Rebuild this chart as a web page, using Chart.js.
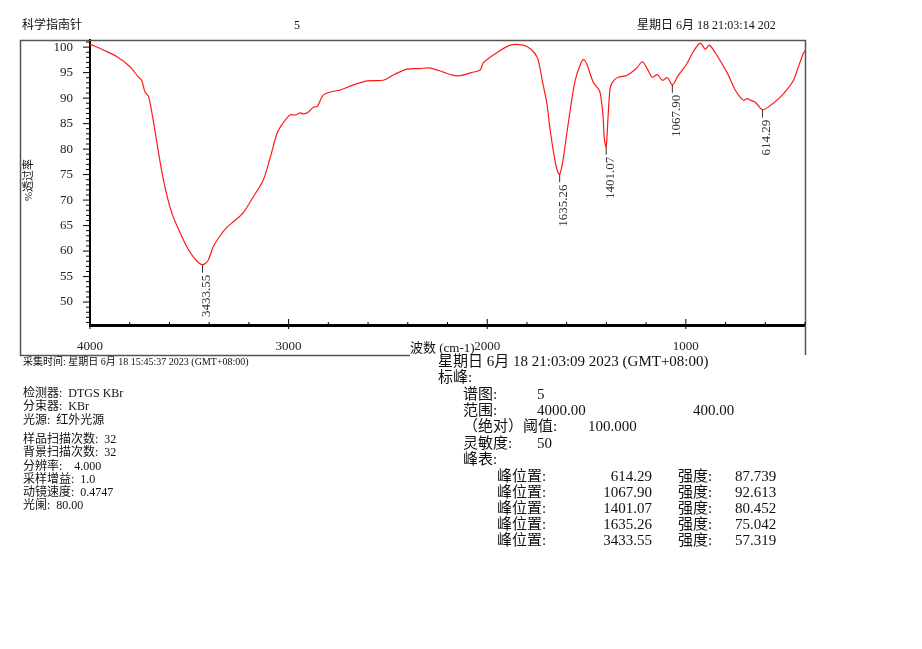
<!DOCTYPE html>
<html><head><meta charset="utf-8">
<script src="https://cdn.jsdelivr.net/npm/chart.js@4"></script>
<style>
html,body{margin:0;padding:0;background:#fff;}
#wrap{position:relative;width:922px;height:649px;overflow:hidden;}
canvas{position:absolute;left:0;top:0;}
.t{position:absolute;white-space:pre;font-family:"Liberation Serif","Noto Sans CJK SC",serif;color:#111;line-height:1;}
</style></head><body>
<div id="wrap"><canvas id="c" width="922" height="649"></canvas></div>
<script>
const wavenumbers=[4000,3930,3864,3800,3758,3740,3723,3705,3682,3660,3637,3610,3581,3545,3512,3470,3433.55,3405,3380,3345,3310,3270,3229,3180,3128,3095,3058,3030,2993,2965,2942,2925,2900,2876,2855,2826,2780,2740,2680,2605,2524,2470,2404,2340,2287,2221,2175,2136,2080,2035,2020,1960,1884,1819,1780,1748,1735,1723,1700,1683,1660,1645,1635.26,1620,1597,1575,1557,1535,1516,1500,1466,1440,1431,1418,1410,1401.07,1392,1380,1360,1340,1295,1250,1219,1195,1169,1143,1118,1093,1067.9,1040,993,960,927,902,882,850,791,750,710,690,675,650,614.29,580,524,490,458,430,408,400];
const transmittance=[100.6,99.4,98.1,96.2,94.2,93.5,91.2,90.3,85.7,80.5,75.3,70.5,66.7,63.5,60.8,58.4,57.32,58.2,60.8,63.0,64.7,66.0,67.5,70.5,73.9,78,83.1,85.0,86.7,86.7,87.1,86.9,87.3,88.2,88.4,90.6,91.3,91.6,92.5,93.4,93.5,94.6,95.7,95.8,95.9,95.1,94.5,94.4,95.0,95.5,96.9,98.7,100.4,100.4,99.6,98,96,93.5,89,83.7,78,75.5,75.04,77.5,83.7,89.5,93.5,96.2,97.6,96.8,93.1,91.8,91,87,82,80.45,86,92.2,93.6,94.1,94.5,95.8,97.1,95.8,94.1,94.6,93.5,94,92.61,94.3,96.9,99.3,100.8,99.6,100.4,98.8,94.9,91.5,89.6,89.9,89.6,89.2,87.74,88.4,90.2,91.7,93.5,96.5,98.8,99.3];
const peakPositions=[614.29,1067.90,1401.07,1635.26,3433.55];
const peakIntensities=[87.739,92.613,80.452,75.042,57.319];
const peakLabels=["614.29","1067.90","1401.07","1635.26","3433.55"];
const yTicks=[50,55,60,65,70,75,80,85,90,95,100];
const xTicks=[4000,3000,2000,1000];

const FONT='"Liberation Serif","Noto Sans CJK SC",serif';
const deco={id:'deco',afterDraw(ch){
  const c=ch.ctx,x=ch.scales.x,y=ch.scales.y,a=ch.chartArea;
  c.save();
  c.strokeStyle='#555';c.lineWidth=1.5;
  c.beginPath();c.moveTo(410,355.5);c.lineTo(20.5,355.5);c.lineTo(20.5,40.5);c.lineTo(805.5,40.5);c.lineTo(805.5,355);c.stroke();
  c.strokeStyle='#000';c.lineWidth=1;
  for(let v=46;v<=101;v++){const py=y.getPixelForValue(v);c.beginPath();c.moveTo(a.left,py);c.lineTo(a.left-(v%5===0?7:4),py);c.stroke();}
  for(let v=400;v<=4000;v+=200){const px=x.getPixelForValue(v);c.beginPath();c.moveTo(px,a.bottom);c.lineTo(px,a.bottom-(v%1000===0?6:3));c.stroke();c.beginPath();c.moveTo(px,a.bottom);c.lineTo(px,a.bottom+(v%1000===0?4:0));c.stroke();}
  c.fillStyle='#333';c.font='13px '+FONT;
  peakPositions.forEach((p,i)=>{const px=x.getPixelForValue(p),py=y.getPixelForValue(peakIntensities[i]);
    c.strokeStyle='#333';c.beginPath();c.moveTo(px,py);c.lineTo(px,py+8);c.stroke();
    c.save();c.translate(px+4,py+10);c.rotate(-Math.PI/2);c.textAlign='right';c.textBaseline='middle';c.fillText(peakLabels[i],0,0);c.restore();});
  c.fillStyle='#111';c.font='11px '+FONT;
  c.save();c.translate(29,180);c.rotate(-Math.PI/2);c.textAlign='center';c.textBaseline='middle';c.fillText('%透过率',0,0);c.restore();
  c.restore();
}};
new Chart(document.getElementById('c'),{
  type:'line',
  data:{datasets:[{data:wavenumbers.map((w,i)=>({x:w,y:transmittance[i]})),borderColor:'#ff1a1a',borderWidth:1.2,pointRadius:0,tension:0.3,fill:false}]},
  options:{responsive:false,animation:false,events:[],
    layout:{padding:{left:0,top:40,right:117,bottom:0}},
    plugins:{legend:{display:false},tooltip:{enabled:false}},
    scales:{
      x:{type:'linear',reverse:true,min:400,max:4000,
        afterFit:s=>{s.height=324;},
        afterBuildTicks:s=>{s.ticks=xTicks.map(v=>({value:v}));},
        grid:{display:false},border:{display:true,color:'#000',width:3},
        ticks:{color:'#222',font:{family:FONT,size:13},padding:6,maxRotation:0,autoSkip:false,callback:v=>String(v)}},
      y:{min:45.5,max:101.4,
        afterFit:s=>{s.width=90;},
        afterBuildTicks:s=>{s.ticks=yTicks.map(v=>({value:v}));},
        grid:{display:false},border:{display:true,color:'#000',width:2},
        ticks:{color:'#222',font:{family:FONT,size:13},padding:9,autoSkip:false}}
    }},
  plugins:[deco]
});
const texts=[
 ["科学指南针",22,19,12],["5",294,19,12],["星期日 6月 18 21:03:14 202",637,19,12],
 ["波数 (cm-1)",410,341,13],
 ["采集时间: 星期日 6月 18 15:45:37 2023 (GMT+08:00)",23,357,10],
 ["检测器:  DTGS KBr",23,387,12],["分束器:  KBr",23,400,12],["光源:  红外光源",23,414,12],
 ["样品扫描次数:  32",23,433,12],["背景扫描次数:  32",23,446,12],["分辨率:    4.000",23,460,12],
 ["采样增益:  1.0",23,473,12],["动镜速度:  0.4747",23,486,12],["光阑:  80.00",23,499,12],
 ["星期日 6月 18 21:03:09 2023 (GMT+08:00)",438,354,15],["标峰:",438,370,15],
 ["谱图:",463,387,15],["5",537,387,15],["范围:",463,403,15],["4000.00",537,403,15],["400.00",693,403,15],
 ["（绝对）阈值:",463,419,15],["100.000",588,419,15],["灵敏度:",463,436,15],["50",537,436,15],["峰表:",463,452,15]
];
const wrap=document.getElementById('wrap');
function addT(s,l,t,f,right){const d=document.createElement('div');d.className='t';d.textContent=s;d.style.top=t+'px';d.style.fontSize=f+'px';if(right){d.style.right=(922-l)+'px';}else d.style.left=l+'px';wrap.appendChild(d);}
texts.forEach(a=>addT(a[0],a[1],a[2],a[3]));
peakLabels.forEach((p,i)=>{const t=469+i*16;addT('峰位置:',497,t,15);addT(p,652,t,15,true);addT('强度:',678,t,15);addT(peakIntensities[i].toFixed(3),735,t,15);});
</script></body></html>
